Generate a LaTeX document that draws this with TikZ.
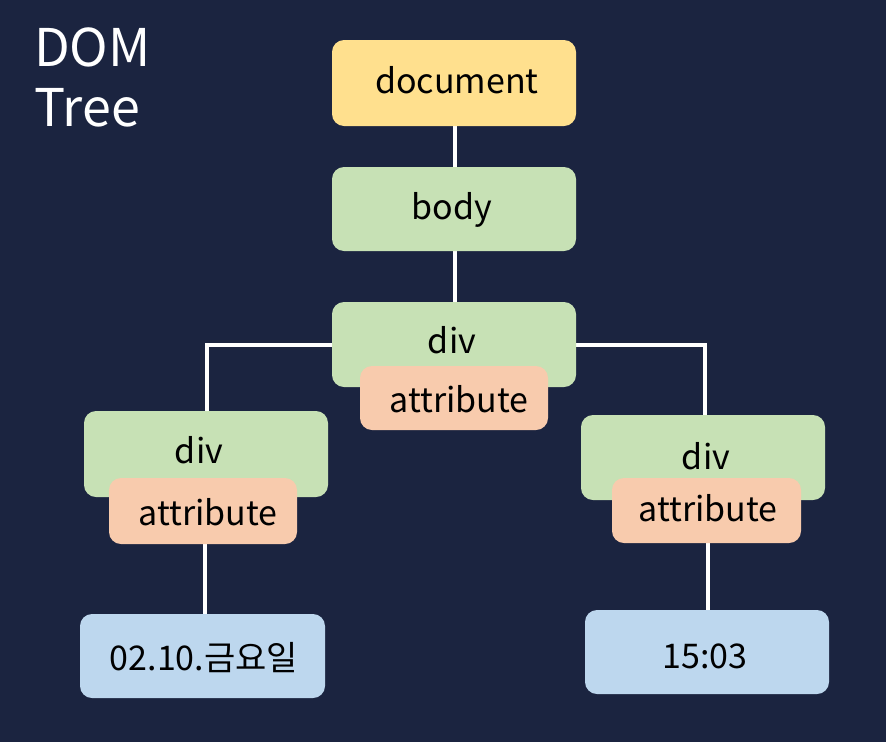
\documentclass[tikz,border=0pt]{standalone}
\usepackage{fontspec}
\setmainfont{Noto Sans CJK KR}
\definecolor{bg}{HTML}{1B2440}
\definecolor{yel}{HTML}{FFE08E}
\definecolor{grn}{HTML}{C7E1B5}
\definecolor{org}{HTML}{F8CBAD}
\definecolor{blu}{HTML}{BDD7EE}
\begin{document}
\begin{tikzpicture}[x=1pt,y=-1pt,
  box/.style={rounded corners=12pt,draw=none},
  lbl/.style={font=\fontsize{34}{38}\selectfont,text=black,inner sep=0},
  conn/.style={draw=white,line width=4pt}]
\fill[bg] (0,0) rectangle (886,742);
\useasboundingbox (0,0) rectangle (886,742);
\node[anchor=north west,align=left,text=white,font=\fontsize{52}{60}\selectfont,inner sep=0] (title) at (34,28) {DOM\\Tree};
% connectors (drawn first)
\coordinate (c1) at (455,126); \coordinate (c2) at (455,167);
\coordinate (c3) at (455,251); \coordinate (c4) at (455,302);
\draw[conn] (c1) -- (c2);
\draw[conn] (c3) -- (c4);
\coordinate (lh) at (332,345); \coordinate (ld) at (207,411);
\draw[conn] (lh) -| (ld);
\coordinate (rh) at (576,345); \coordinate (rd) at (705,415);
\draw[conn] (rh) -| (rd);
\coordinate (la) at (205,544); \coordinate (lb) at (205,614);
\draw[conn] (la) -- (lb);
\coordinate (ra) at (708,543); \coordinate (rb) at (708,610);
\draw[conn] (ra) -- (rb);
% boxes
\fill[box,yel] (332,40) rectangle (576,126);
\node[lbl] (doc) at (457,80) {document};
\fill[box,grn] (332,167) rectangle (576,251);
\node[lbl] (body) at (452,210) {body};
\fill[box,grn] (332,302) rectangle (576,387);
\node[lbl] (div1) at (452,340) {div};
\fill[box,org] (360,366) rectangle (548,430);
\node[lbl] (att1) at (459,399) {attribute};
\fill[box,grn] (84,411) rectangle (328,497);
\node[lbl] (div2) at (199,450) {div};
\fill[box,org] (109,478) rectangle (297,544);
\node[lbl] (att2) at (208,512) {attribute};
\fill[box,grn] (581,415) rectangle (825,500);
\node[lbl] (div3) at (706,456) {div};
\fill[box,org] (612,478) rectangle (801,543);
\node[lbl] (att3) at (708,508) {attribute};
\fill[box,blu] (80,614) rectangle (325,698);
\node[lbl] (date) at (204,658) {02.10.금요일};
\fill[box,blu] (585,610) rectangle (829,694);
\node[lbl] (time) at (705,656) {15:03};
\end{tikzpicture}
\end{document}
